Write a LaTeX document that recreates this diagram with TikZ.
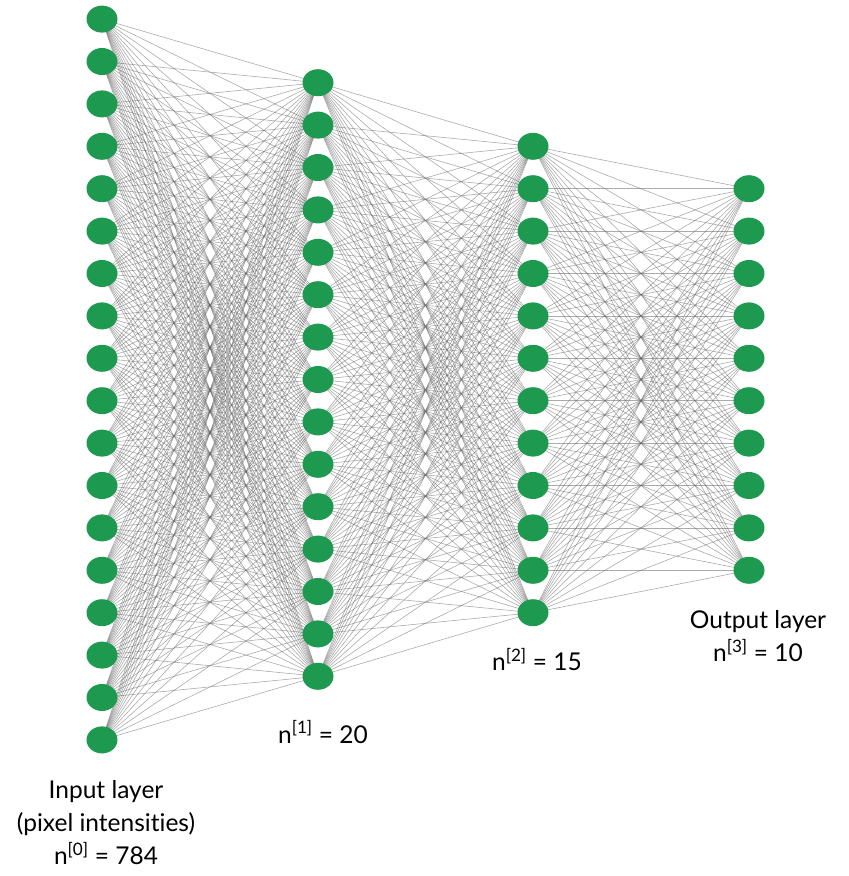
\documentclass[tikz,border=0pt]{standalone}
\usepackage{fontspec}
\setmainfont{Lato}[Ligatures=NoCommon]
\usepackage{tikz}
\usetikzlibrary{shapes.geometric,backgrounds}
\definecolor{neuron_green}{RGB}{29,153,80}
\tikzstyle{node_neuron} = [ellipse, fill=neuron_green, inner sep=0pt, minimum width=31pt, minimum height=27pt]
\tikzstyle{edge_weight} = [draw=black!60, line width=0.6pt, opacity=0.55]
\tikzstyle{node_label} = [align=center, font=\fontsize{24.5}{33}\selectfont]

\begin{document}
\begin{tikzpicture}[x=1pt,y=-1pt]
		\useasboundingbox (0,0) rectangle (849,876);
		\def\dy{42.4}
		\def\ymid{379.5}
		\foreach \x/\n/\l in {102/18/a, 318/15/b, 533/12/c, 749/10/d}
			\foreach \i in {1,...,\n}
				\node (\l\i) at (\x, {\ymid+(\i-(\n+1)/2)*\dy}) [node_neuron] {};
		
		\begin{scope}[on background layer]
			\foreach \l/\n/\m/\k in {a/18/b/15, b/15/c/12, c/12/d/10}
				\foreach \i in {1,...,\n}
					\foreach \j in {1,...,\k}
						\draw[edge_weight] (\l\i.center) -- (\m\j.center);
		\end{scope}
		
		\node (La) at (106, 823) [node_label] {Input layer\\(pixel intensities)\\n\textsuperscript{[0]} = 784};
		\node (Lb) at (323, 732) [node_label] {n\textsuperscript{[1]} = 20};
		\node (Lc) at (537, 660) [node_label] {n\textsuperscript{[2]} = 15};
		\node (Ld) at (758, 636) [node_label] {Output layer\\n\textsuperscript{[3]} = 10};
		\end{tikzpicture}
\end{document}
